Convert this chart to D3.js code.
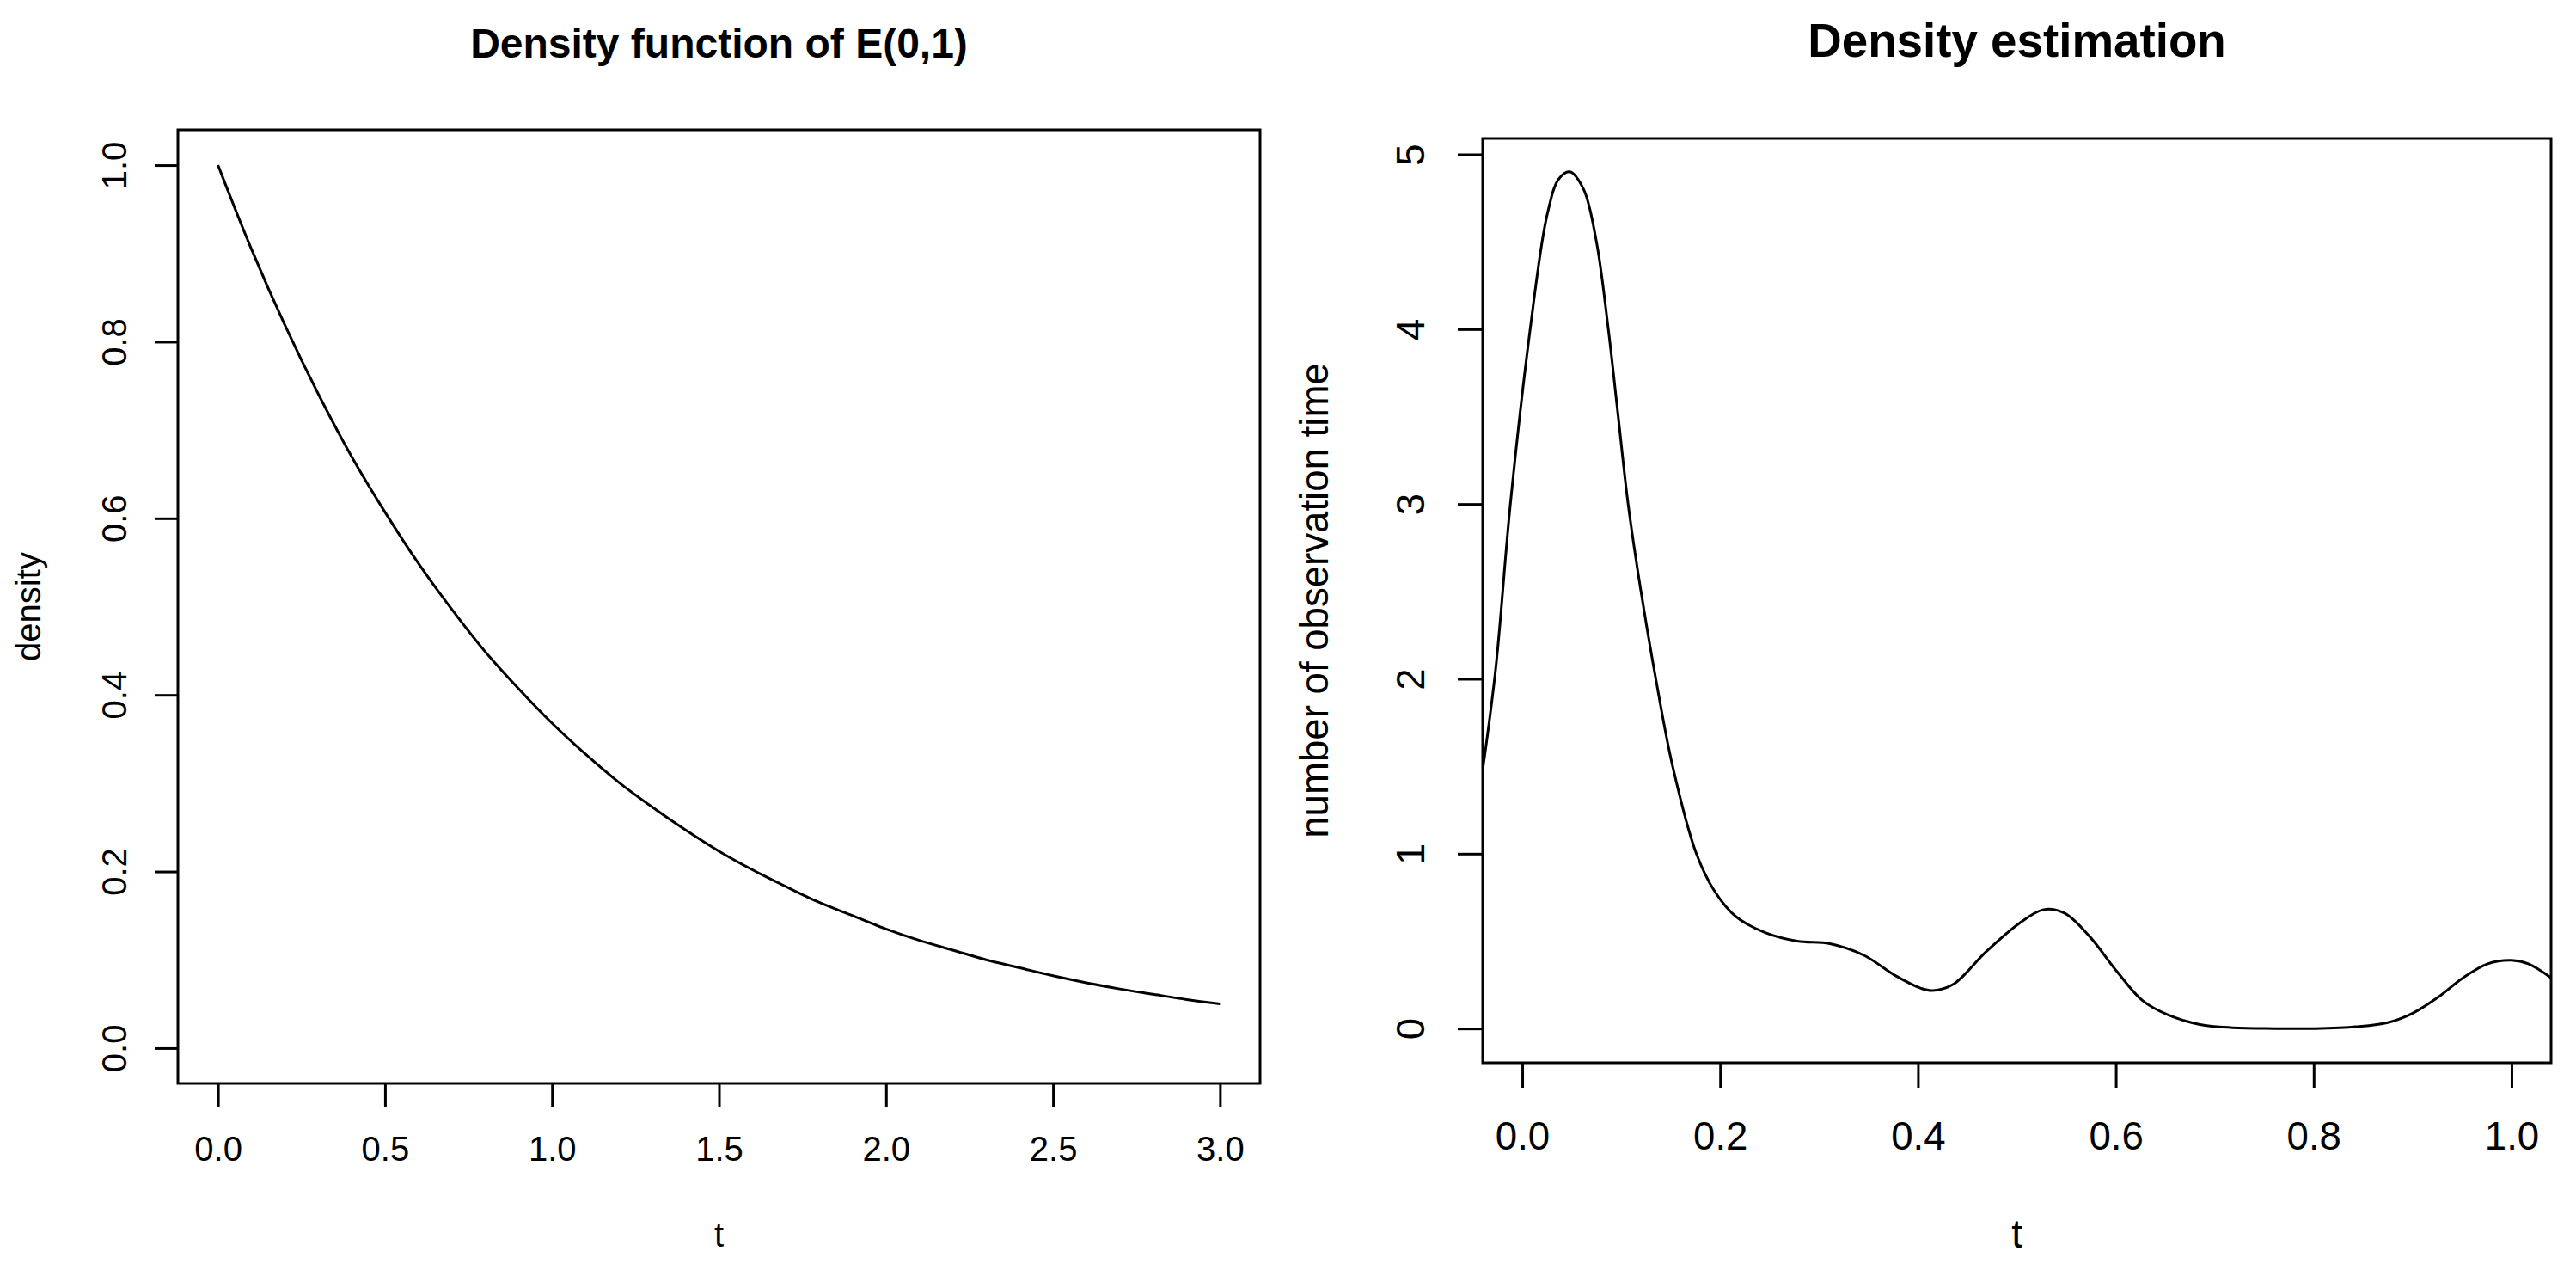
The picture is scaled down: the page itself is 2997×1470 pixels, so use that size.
<!DOCTYPE html>
<html>
<head>
<meta charset="utf-8">
<script src="https://cdn.jsdelivr.net/npm/d3@7"></script>
<style>
  body { margin: 0; background: #fff; }
  svg text { font-family: "Liberation Sans", Arial, Helvetica, sans-serif; fill: #000; }
  .tick line { stroke: #000; stroke-width: 3; }
</style>
</head>
<body>
<div id="chart"></div>
<script>
// left panel: density of E(0,1), read at t = 0, 0.1, ..., 3.0
var expT = d3.range(31).map(function (i) { return i / 10; });
var expDensity = [1.000, 0.905, 0.819, 0.741, 0.670, 0.607, 0.549, 0.497, 0.449, 0.407,
  0.368, 0.333, 0.301, 0.273, 0.247, 0.223, 0.202, 0.183, 0.165, 0.150,
  0.135, 0.122, 0.111, 0.100, 0.091, 0.082, 0.074, 0.067, 0.061, 0.055, 0.050];
var expXTicks = [0, 0.5, 1, 1.5, 2, 2.5, 3];
var expYTicks = [0, 0.2, 0.4, 0.6, 0.8, 1];

// right panel: kernel density estimate
var kdeT = [-0.041, -0.027, -0.012, 0.008, 0.025, 0.037, 0.048, 0.062, 0.075, 0.087,
  0.097, 0.107, 0.120, 0.135, 0.152, 0.176, 0.195, 0.216, 0.245, 0.278,
  0.311, 0.345, 0.378, 0.403, 0.415, 0.436, 0.469, 0.502, 0.527, 0.548,
  0.573, 0.602, 0.627, 0.652, 0.685, 0.718, 0.760, 0.801, 0.843, 0.876,
  0.901, 0.926, 0.951, 0.976, 1.000, 1.017, 1.040];
var kdeDensity = [1.44, 2.05, 3.00, 4.00, 4.65, 4.86, 4.90, 4.80, 4.50, 4.00,
  3.50, 3.00, 2.50, 2.00, 1.50, 1.00, 0.78, 0.64, 0.55, 0.50,
  0.485, 0.42, 0.30, 0.23, 0.217, 0.254, 0.44, 0.60, 0.68, 0.66,
  0.53, 0.32, 0.16, 0.08, 0.023, 0.005, 0.0, 0.0, 0.01, 0.035,
  0.09, 0.18, 0.29, 0.37, 0.39, 0.37, 0.29];
var kdeXTicks = [0, 0.2, 0.4, 0.6, 0.8, 1];
var kdeYTicks = [0, 1, 2, 3, 4, 5];

var svg = d3.select("#chart").append("svg")
  .attr("width", 2997)
  .attr("height", 1470);

function drawPanel(p) {
  var x = d3.scaleLinear().domain(p.xDomain).range([p.box.x0, p.box.x1]);
  var y = d3.scaleLinear().domain(p.yDomain).range([p.box.y1, p.box.y0]);
  var fs = p.font;

  var g = svg.append("g");

  // clip for the curve
  svg.append("clipPath").attr("id", p.id + "-clip")
    .append("rect")
    .attr("x", p.box.x0).attr("y", p.box.y0)
    .attr("width", p.box.x1 - p.box.x0).attr("height", p.box.y1 - p.box.y0);

  var line = d3.line()
    .x(function (d) { return x(d[0]); })
    .y(function (d) { return y(d[1]); })
    .curve(d3.curveCatmullRom.alpha(0.5));

  g.append("path")
    .datum(d3.zip(p.xs, p.ys))
    .attr("clip-path", "url(#" + p.id + "-clip)")
    .attr("fill", "none")
    .attr("stroke", "#000")
    .attr("stroke-width", 3)
    .attr("stroke-linejoin", "round")
    .attr("d", line);

  // x axis
  var xAxis = g.append("g")
    .attr("transform", "translate(0," + p.box.y1 + ")")
    .call(d3.axisBottom(x).tickValues(p.xTicks).tickSize(p.tick).tickSizeOuter(0)
      .tickFormat(d3.format(p.xFmt)));
  xAxis.select(".domain").remove();
  xAxis.selectAll("text")
    .attr("y", p.xLabOff).attr("dy", 0)
    .style("font-size", fs + "px");

  // y axis, labels parallel to axis
  var yAxis = g.append("g")
    .attr("transform", "translate(" + p.box.x0 + ",0)")
    .call(d3.axisLeft(y).tickValues(p.yTicks).tickSize(p.tick).tickSizeOuter(0)
      .tickFormat(d3.format(p.yFmt)));
  yAxis.select(".domain").remove();
  yAxis.selectAll("text")
    .attr("transform", "rotate(-90)")
    .attr("x", 0).attr("y", -p.yLabOff).attr("dy", 0)
    .attr("text-anchor", "middle")
    .style("font-size", fs + "px");

  // box
  g.append("rect")
    .attr("x", p.box.x0).attr("y", p.box.y0)
    .attr("width", p.box.x1 - p.box.x0).attr("height", p.box.y1 - p.box.y0)
    .attr("fill", "none").attr("stroke", "#000").attr("stroke-width", 3);

  var cx = (p.box.x0 + p.box.x1) / 2;
  var cy = (p.box.y0 + p.box.y1) / 2;

  // title
  g.append("text")
    .attr("x", cx).attr("y", p.box.y0 - p.titleOff)
    .attr("text-anchor", "middle")
    .style("font-size", fs * 1.2 + "px")
    .style("font-weight", "bold")
    .text(p.title);

  // axis titles
  g.append("text")
    .attr("x", cx).attr("y", p.box.y1 + p.xTitleOff)
    .attr("text-anchor", "middle")
    .style("font-size", fs + "px")
    .text(p.xTitle);

  g.append("text")
    .attr("transform", "translate(" + (p.box.x0 - p.yTitleOff) + "," + cy + ") rotate(-90)")
    .attr("text-anchor", "middle")
    .style("font-size", fs + "px")
    .text(p.yTitle);
}

drawPanel({
  id: "exp",
  box: { x0: 207, x1: 1466, y0: 151, y1: 1260 },
  xDomain: [-0.12, 3.12],
  yDomain: [-0.04, 1.04],
  xs: expT, ys: expDensity,
  xTicks: expXTicks, yTicks: expYTicks,
  xFmt: ".1f", yFmt: ".1f",
  font: 40, tick: 27,
  xLabOff: 90, yLabOff: 60,
  titleOff: 84, xTitleOff: 190, yTitleOff: 160,
  title: "Density function of E(0,1)",
  xTitle: "t", yTitle: "density"
});

drawPanel({
  id: "kde",
  box: { x0: 1725, x1: 2968, y0: 161, y1: 1236 },
  xDomain: [-0.04, 1.04],
  yDomain: [-0.196, 5.091],
  xs: kdeT, ys: kdeDensity,
  xTicks: kdeXTicks, yTicks: kdeYTicks,
  xFmt: ".1f", yFmt: "d",
  font: 45.6, tick: 29,
  xLabOff: 101, yLabOff: 68,
  titleOff: 95, xTitleOff: 215, yTitleOff: 180,
  title: "Density estimation",
  xTitle: "t", yTitle: "number of observation time"
});
</script>
</body>
</html>
